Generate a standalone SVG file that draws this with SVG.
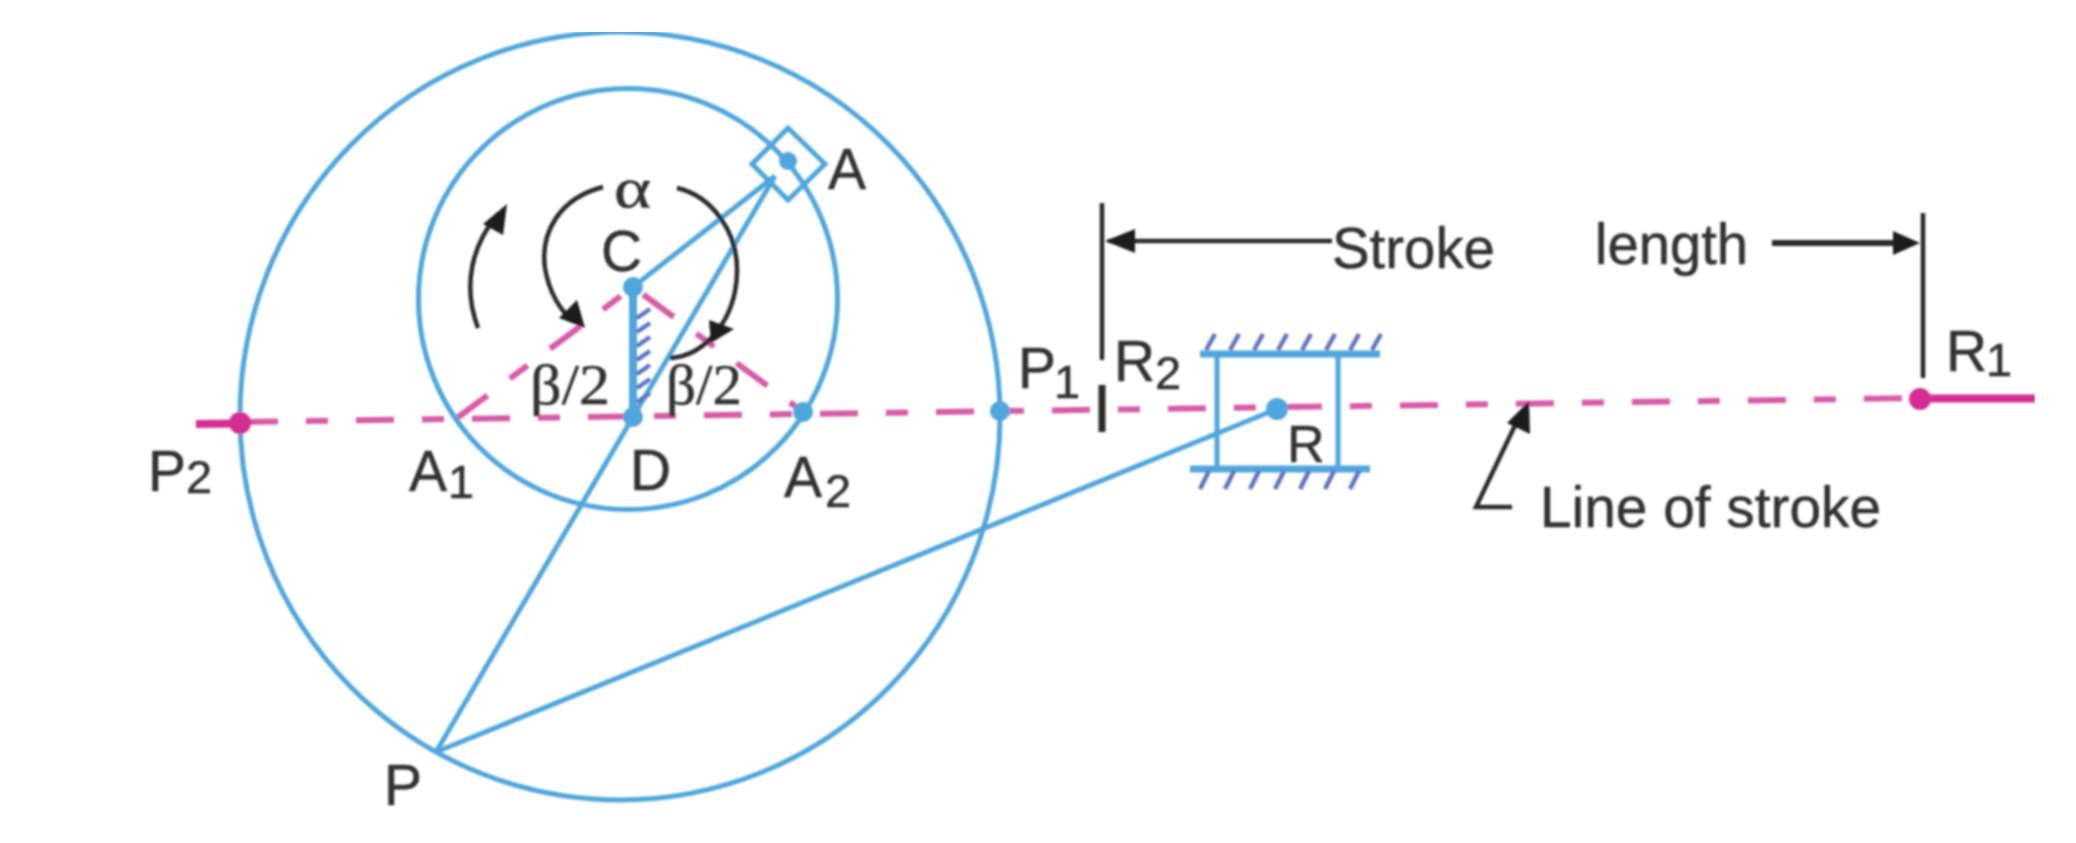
<svg xmlns="http://www.w3.org/2000/svg" width="2076" height="843" viewBox="0 0 2076 843">
<defs>
<style>
.b{fill:none;stroke:#4fa6dc;stroke-width:5}
.bf{fill:#4fa6dc}
.p{fill:none;stroke:#d75ba6;stroke-width:6}
.pd{stroke-dasharray:38 28 22 28}
.pdot{fill:#d42f92}
.k{fill:none;stroke:#2b2b2b;stroke-width:4.5}
.kf{fill:#1f1f1f}
.h{fill:none;stroke:#5f74c4;stroke-width:4.5}
text{font-family:"Liberation Sans",Arial,sans-serif;font-size:57px;fill:#333333;stroke:#333333;stroke-width:.5}
.s{font-size:47px}
.g{font-family:"Liberation Serif","DejaVu Serif",serif;font-size:56px}
</style>
<filter id="soft" x="0" y="0" width="100%" height="100%"><feGaussianBlur stdDeviation="1.2"/></filter>
</defs>
<rect width="2076" height="843" fill="#ffffff"/>
<g filter="url(#soft)">
<g id="connectors">
<path class="p pd" d="M240 422L1920 398"/>
<path class="p pd" d="M457 418L633 287L803 412"/>
<path class="p" style="stroke-width:8;stroke:#d42f92" d="M196 424L240 423.500M1920 398.500L2035 398.500"/>
<path class="b" d="M633 287L775 176M436 752L633 417L775 176M436 752L1277 409"/>
<path class="b" style="stroke-width:8" d="M633 287V417"/>
<path class="h" d="M637 318l13 -9M637 332l13 -9M637 346l13 -9M637 360l13 -9M637 374l13 -9M637 388l13 -9M637 402l13 -9"/>
<path class="b" d="M1217 354V469M1338 354V469"/>
<path class="b" style="stroke-width:7" d="M1200 354H1380M1190 469H1370"/>
<path class="h" d="M1206 350l9 -16M1230 350l9 -16M1254 350l9 -16M1278 350l9 -16M1302 350l9 -16M1326 350l9 -16M1350 350l9 -16M1372 350l9 -16"/>
<path class="h" d="M1200 489l9 -18M1225 489l9 -18M1250 489l9 -18M1275 489l9 -18M1300 489l9 -18M1325 489l9 -18M1350 489l9 -18"/>
<path class="k" d="M478 328C462 285 472 245 498 214"/>
<path class="kf" d="M507 204L503 235L483 224Z"/>
<path class="k" d="M603 187C560 198 540 232 545 268C549 292 560 310 572 320"/>
<path class="kf" d="M585 328L559 318L577 300Z"/>
<path class="k" d="M677 188C712 196 738 232 737 272C736 320 705 356 670 358"/>
<path class="kf" d="M711 343L709 320L734 329Z"/>
<path class="k" d="M1102 203V360"/>
<path class="k" style="stroke-width:7" d="M1102 385V432"/>
<path class="k" d="M1108 241H1332"/>
<path class="kf" d="M1105 241L1135 229V253Z"/>
<path class="k" style="stroke-width:6" d="M1772 243H1900"/>
<path class="kf" d="M1920 243L1893 231V255Z"/>
<path class="k" d="M1923 213V378"/>
<path class="k" d="M1512 507H1476L1520 415"/>
<path class="kf" d="M1529 401L1530 434L1507 423Z"/>
</g>
<g id="circle-outer"><ellipse class="b" cx="620" cy="416" rx="380" ry="384"/></g>
<g id="circle-inner"><ellipse class="b" cx="628" cy="299" rx="209.500" ry="210.500"/></g>
<g id="node-A"><path class="b" d="M788 128L825 164L788 200L752 164Z"/><circle class="bf" cx="788" cy="161" r="9"/><text x="828" y="189">A</text></g>
<g id="node-alpha"><text class="g" x="614" y="207" textLength="37" lengthAdjust="spacingAndGlyphs">α</text></g>
<g id="node-C"><circle class="bf" cx="633" cy="287" r="10"/><text x="601" y="271">C</text></g>
<g id="node-D"><circle class="bf" cx="633" cy="417" r="10"/><text x="630" y="490">D</text></g>
<g id="node-A1"><text x="409" y="491">A</text><text class="s" x="448" y="498">1</text></g>
<g id="node-A2"><circle class="bf" cx="803" cy="412" r="10"/><text x="784" y="497">A</text><text class="s" x="825" y="507">2</text></g>
<g id="label-beta-left"><text class="g" x="530" y="404" textLength="80" lengthAdjust="spacingAndGlyphs">β/2</text></g>
<g id="label-beta-right"><text class="g" x="666" y="404" textLength="76" lengthAdjust="spacingAndGlyphs">β/2</text></g>
<g id="node-P2"><circle class="pdot" cx="240" cy="423" r="11"/><text x="148" y="491">P</text><text class="s" x="186" y="493">2</text></g>
<g id="node-P1"><circle class="bf" cx="1000" cy="411" r="10"/><text x="1018" y="388">P</text><text class="s" x="1054" y="398">1</text></g>
<g id="node-P"><text x="384" y="805">P</text></g>
<g id="node-R2"><text x="1114" y="381">R</text><text class="s" x="1155" y="389">2</text></g>
<g id="node-R"><circle class="bf" cx="1277" cy="409" r="11"/><text x="1287" y="462" style="font-size:52px">R</text></g>
<g id="node-R1"><circle class="pdot" cx="1920" cy="399" r="11"/><text x="1946" y="371">R</text><text class="s" x="1986" y="376">1</text></g>
<g id="label-stroke"><text x="1332" y="268" textLength="163" lengthAdjust="spacingAndGlyphs">Stroke</text></g>
<g id="label-length"><text x="1595" y="264" textLength="153" lengthAdjust="spacingAndGlyphs">length</text></g>
<g id="label-line-of-stroke"><text x="1540" y="527" textLength="341" lengthAdjust="spacingAndGlyphs">Line of stroke</text></g>
</g>
</svg>
